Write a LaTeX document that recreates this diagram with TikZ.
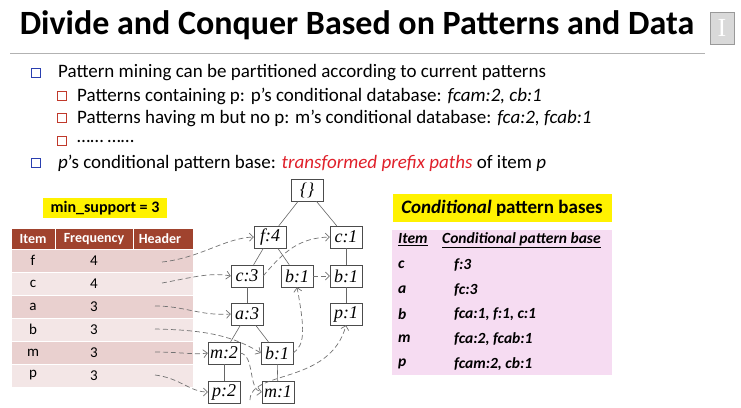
\documentclass[tikz,border=0pt]{standalone}
\usepackage{fontspec}
\setmainfont{Carlito}
\newfontfamily\tms{Liberation Serif}
\usetikzlibrary{arrows.meta}
\definecolor{thead}{HTML}{A0432E}
\definecolor{rowA}{HTML}{E9D0CF}
\definecolor{rowB}{HTML}{F3E6E6}
\definecolor{pinkbox}{HTML}{F6DCF2}
\definecolor{bulblue}{HTML}{2A3FB0}
\definecolor{bulred}{HTML}{C0392B}
\definecolor{tred}{HTML}{E0202A}
\tikzset{
 tn/.style={draw=black!70,fill=white,minimum width=32pt,minimum height=22pt,inner sep=1pt,font=\tms\itshape\fontsize{18}{18}\selectfont},
 te/.style={draw=black!60,line width=0.6pt},
 da/.style={draw=black!55,dashed,dash pattern=on 5pt off 3pt,line width=0.7pt,-{Straight Barb[length=4pt]}},
 txt/.style={anchor=west,inner sep=0pt,font=\fontsize{19}{19}\selectfont},
 bb/.style={draw=bulblue,line width=1.1pt,minimum size=9pt,inner sep=0pt},
 br/.style={draw=bulred,line width=1.1pt,minimum size=9pt,inner sep=0pt},
 cell/.style={inner sep=0pt,font=\fontsize{15}{15}\selectfont},
 pb/.style={anchor=west,inner sep=0pt,font=\bfseries\itshape\fontsize{15.5}{15.5}\selectfont}
}
\begin{document}
\begin{tikzpicture}[x=1pt,y=-1pt]
\useasboundingbox[fill=white] (0,0) rectangle (741,407);
\node[font=\bfseries\fontsize{34}{34}\selectfont] (title) at (357,25) {Divide and Conquer Based on Patterns and Data};
\draw[black!30] (10,53) -- (705,53);
\node[draw=black!40,fill=black!15,minimum width=24pt,minimum height=32pt,font=\tms\fontsize{26}{26}\selectfont,text=white] (logo) at (722,28) {I};
% bullets
\node[bb] (b1) at (36,73) {}; \node[txt] (t1) at (58,73) {Pattern mining can be partitioned according to current patterns};
\node[br] (b2) at (62,96) {}; \node[txt] (t2) at (77,96) {Patterns containing p: p's conditional database: \textit{fcam:2, cb:1}};
\node[br] (b3) at (62,118) {}; \node[txt] (t3) at (77,118) {Patterns having m but no p: m's conditional database: \textit{fca:2, fcab:1}};
\node[br] (b4) at (62,141) {}; \node[txt] (t4) at (77,141) {\textellipsis\textellipsis{} \textellipsis\textellipsis};
\node[bb] (b5) at (36,163) {}; \node[txt] (t5) at (58,163) {\textit{p}'s conditional pattern base: \textcolor{tred}{\textit{transformed prefix paths}} of item \textit{p}};
% min support
\node[fill=yellow,minimum width=124pt,minimum height=19pt,font=\bfseries\fontsize{16}{16}\selectfont] (ms) at (105,208) {min\_support = 3};
% table
\fill[thead] (12,229) rectangle (193,249);
\draw[white,line width=1pt] (55,229) -- (55,249) (133,229) -- (133,249);
\node[cell,text=white,font=\bfseries\fontsize{14}{14}\selectfont] (h1) at (33,239) {Item};
\node[cell,text=white,font=\bfseries\fontsize{14}{14}\selectfont] (h2) at (94,239) {Frequency};
\node[cell,text=white,font=\bfseries\fontsize{14}{14}\selectfont] (h3) at (160,239) {Header};
\foreach \it/\fr/\i in {f/4/0,c/4/1,a/3/2,b/3/3,m/3/4,p/3/5}{
  \pgfmathsetmacro{\ya}{249+23*\i}
  \pgfmathtruncatemacro{\od}{mod(\i,2)}
  \ifnum\od=0 \fill[rowA] (12,\ya) rectangle (193,\ya+23); \else \fill[rowB] (12,\ya) rectangle (193,\ya+23); \fi
  \draw[white,line width=1pt] (12,\ya) -- (193,\ya);
  \node[cell] (i\it) at (33,\ya+11.5) {\it};
  \node[cell] (f\it) at (94,\ya+11.5) {\fr};
}
\coordinate (hf) at (162,262); \coordinate (hc) at (162,283);
\coordinate (ha) at (155,306); \coordinate (hb) at (155,329);
\coordinate (hm) at (155,352); \coordinate (hp) at (155,375);
% tree
\node[tn] (root) at (307,190) {\{\}};
\node[tn] (f4) at (270,237) {f:4};
\node[tn] (c1) at (346,237) {c:1};
\node[tn] (c3) at (247,276) {c:3};
\node[tn] (b1a) at (297,276) {b:1};
\node[tn] (b1b) at (346,276) {b:1};
\node[tn] (a3) at (247,314) {a:3};
\node[tn] (p1) at (346,314) {p:1};
\node[tn] (m2) at (224,353) {m:2};
\node[tn] (b1c) at (277,353) {b:1};
\node[tn] (p2) at (224,392) {p:2};
\node[tn] (m1) at (278,392) {m:1};
\draw[te] (root) -- (f4); \draw[te] (root) -- (c1);
\draw[te] (f4) -- (c3); \draw[te] (f4) -- (b1a);
\draw[te] (c1) -- (b1b); \draw[te] (b1b) -- (p1);
\draw[te] (c3) -- (a3); \draw[te] (a3) -- (m2); \draw[te] (a3) -- (b1c);
\draw[te] (m2) -- (p2); \draw[te] (b1c) -- (m1);
% node links
\draw[da] (hf) .. controls (200,258) and (225,238) .. (f4.west);
\draw[da] (hc) .. controls (190,278) and (210,272) .. (c3.west);
\draw[da] (c3.east) .. controls (285,250) and (300,238) .. (c1.west);
\draw[da] (b1a) -- (b1b);
\draw[da] (ha) .. controls (185,306) and (200,316) .. (a3.west);
\draw[da] (hb) .. controls (200,330) and (230,334) .. (b1c.west);
\draw[da] (hm) .. controls (180,352) and (195,355) .. (m2.west);
\draw[da] (hp) .. controls (180,378) and (190,392) .. (p2.west);
\draw[da] (b1c.east) .. controls (305,345) and (305,330) .. (b1a.south);
\draw[da] (m2.east) .. controls (255,355) and (248,390) .. (m1.west);
\coordinate (mq) at (250,400);
\draw[da] (mq) .. controls (250,370) and (330,385) .. (p1.south);
% right box
\node[fill=yellow,minimum width=219pt,minimum height=28pt,font=\fontsize{19}{19}\selectfont] (cpb) at (502,208) {\textbf{\textit{Conditional}} \textbf{pattern bases}};
\fill[pinkbox] (392,230) rectangle (612,375);
\node[pb] (ih) at (398,240) {\underline{Item}};
\node[pb] (ch) at (442,240) {\underline{Conditional pattern base}};
\foreach \a/\b/\y/\n in {c/f:3/265/1,a/fc:3/290/2,b/{fca:1, f:1, c:1}/314/3,m/{fca:2, fcab:1}/339/4,p/{fcam:2, cb:1}/364/5}{
  \node[pb] (ri\n) at (398,\y) {\a};
  \node[pb] (rb\n) at (454,\y) {\b};
}
\end{tikzpicture}
\end{document}
